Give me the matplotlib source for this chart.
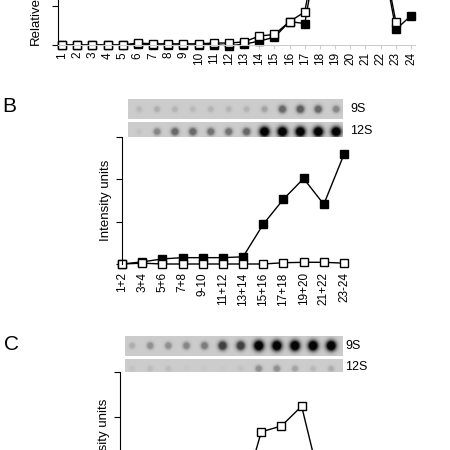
import numpy as np
import matplotlib
matplotlib.use("Agg")
import matplotlib.pyplot as plt

# Panel A data
a_x = list(range(1, 25))
a_open = [0,0,0,0,0,0.05,0.03,0.03,0.03,0.03,0.05,0.05,0.08,0.23,0.27,0.6,0.85,3,3.5,3.5,3.2,2.6,0.6,np.nan]
a_fill = [0,0,0,0,0,0.03,0,0,0,0,0.01,-0.02,0.02,0.1,0.2,0.6,0.55,2.8,3.3,3.3,3.0,2.5,0.4,0.75]

# Panel B data
b_labels = ["1+2","3+4","5+6","7+8","9-10","11+12","13+14","15+16","17+18","19+20","21+22","23-24"]
b_fill = [0,0.05,0.12,0.15,0.15,0.15,0.17,0.94,1.53,2.02,1.41,2.59]
b_open = [0,0.02,0,0,0,0,0,0,0.03,0.04,0.04,0.02]
b_9s = [0.1,0.15,0.12,0.1,0.12,0.12,0.12,0.2,0.5,0.55,0.5,0.35]
b_12s = [0.05,0.35,0.5,0.5,0.45,0.45,0.5,1,1,1,1,1]

# Panel C data
c_open = [0,0,0,0,0,0,0.1,1.67,1.8,2.24,0.4,0.1]
c_fill = [0,0,0,0,0,0,0,0,0,0,0,0]
c_9s = [0.15,0.3,0.3,0.35,0.4,0.7,0.7,1,1,1,1,1]
c_12s = [0.05,0.08,0.08,0.02,0.02,0.02,0.05,0.3,0.3,0.2,0.1,0.15]

fig = plt.figure(figsize=(4.5, 4.5), dpi=100)
plt.rcParams['font.family'] = 'Liberation Sans'

def ax_px(l, t, r, b):
    return fig.add_axes([l/450, 1-b/450, (r-l)/450, (b-t)/450])

ms = 5.5
# ---- Panel A
axA = ax_px(58, -60, 415, 45)
axA.plot(a_x, a_fill, '-s', color='k', mfc='k', mec='k', ms=ms, lw=1, clip_on=False)
axA.plot(a_x, a_open, '-s', color='k', mfc='white', mec='k', ms=ms, lw=1, clip_on=False)
sc = 349/23
axA.set_xlim(1-4/sc, 24+4/sc)
axA.set_ylim(0, 105/39)
axA.set_xticks(a_x)
axA.set_xticklabels([str(v) for v in a_x], rotation=90, fontsize=8.5)
axA.set_yticks([0, 1, 2])
axA.set_yticklabels([])
for s in ['top', 'right']:
    axA.spines[s].set_visible(False)
axA.spines['bottom'].set_color('#cccccc')
axA.tick_params(axis='x', colors='#cccccc', labelcolor='k', length=3, pad=2)
axA.tick_params(axis='y', length=4)
axA.set_ylabel("Relative", fontsize=9.5, loc='bottom', labelpad=4)

def blot(l, t, r, b, vals, x0, x1):
    ax = ax_px(l, t, r, b)
    W, H = int(r-l)*3, int(b-t)*3
    xx, yy = np.meshgrid(np.arange(W), np.arange(H))
    img = np.full((H, W), 0.80)
    xs = np.linspace((x0-l)*3, (x1-l)*3, len(vals))
    for xc, v in zip(xs, vals):
        s = 5 + 5*v
        g = np.exp(-((xx-xc)**2 + (yy-H/2)**2)/(2*s**2))
        g = np.clip(g*1.8, 0, 1)
        img -= 0.78*v*g
    ax.imshow(np.clip(img, 0, 1), cmap='gray', vmin=0, vmax=1, aspect='auto')
    ax.axis('off')
    return ax

# ---- Panel B
fig.text(2/450, 1-107/450, "B", fontsize=15, va='center')
blot(128, 99, 343, 119, b_9s, 139, 336)
blot(128, 122, 343, 141, b_12s, 139, 336)
fig.text(350/450, 1-109/450, "9S", fontsize=9, va='center')
fig.text(350/450, 1-131/450, "12S", fontsize=9, va='center')
axB = ax_px(122, 137, 350, 264)
xb = np.arange(len(b_labels))
axB.plot(xb, b_fill, '-s', color='k', mfc='k', mec='k', ms=ms, lw=1, clip_on=False)
axB.plot(xb, b_open, '-s', color='k', mfc='white', mec='k', ms=ms, lw=1, clip_on=False)
axB.set_xlim(0, 228/20.18)
axB.set_ylim(0, 3)
axB.set_yticks([0, 1, 2, 3])
axB.set_yticklabels([])
axB.set_xticks(xb)
axB.set_xticklabels(b_labels, rotation=90, fontsize=8.5)
axB.tick_params(axis='x', length=0, pad=6)
axB.tick_params(axis='y', length=4)
for s in ['top', 'right', 'bottom']:
    axB.spines[s].set_visible(False)
axB.set_ylabel("Intensity units", fontsize=9.5, labelpad=0)

# ---- Panel C
fig.text(4/450, 1-345/450, "C", fontsize=15, va='center')
blot(125, 336, 343, 356, c_9s, 132, 331)
blot(125, 359, 343, 378, c_12s, 132, 331)
fig.text(345/450, 1-346/450, "9S", fontsize=9, va='center')
fig.text(345/450, 1-367/450, "12S", fontsize=9, va='center')
axC = ax_px(120, 372, 350, 507)
axC.plot(xb, c_fill, '-s', color='k', mfc='k', mec='k', ms=ms, lw=1, clip_on=False)
axC.plot(xb, c_open, '-s', color='k', mfc='white', mec='k', ms=ms, lw=1, clip_on=False)
axC.set_xlim(0, 230/20.18)
axC.set_ylim(0, 3)
axC.set_yticks([0, 1, 2, 3])
axC.set_yticklabels([])
axC.set_xticks([])
axC.tick_params(axis='y', length=4)
for s in ['top', 'right', 'bottom']:
    axC.spines[s].set_visible(False)
axC.set_ylabel("Intensity units", fontsize=9.5, labelpad=0)

fig.savefig("out.png", dpi=100)
